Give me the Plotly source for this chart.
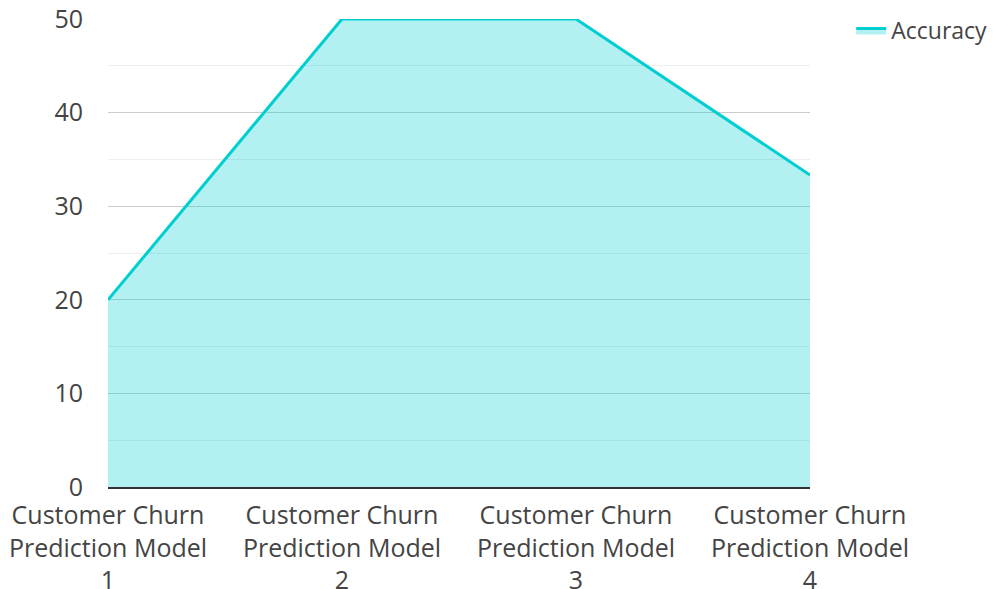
import plotly.graph_objects as go

categories = ["Customer Churn<br>Prediction Model<br>1", "Customer Churn<br>Prediction Model<br>2",
              "Customer Churn<br>Prediction Model<br>3", "Customer Churn<br>Prediction Model<br>4"]
accuracy = [20, 50, 50, 33.33]
series_name = "Accuracy"

x_idx = list(range(len(categories)))

fig = go.Figure()
fig.add_trace(go.Scatter(
    x=x_idx, y=accuracy, name=series_name, mode="lines",
    line=dict(color="#00CED1", width=3),
    fill="tozeroy", fillcolor="rgba(0,206,209,0.3)",
    showlegend=True,
))

fig.update_layout(
    width=992, height=581,
    margin=dict(l=100, r=190, t=11, b=102, autoexpand=False),
    paper_bgcolor="white", plot_bgcolor="white",
    font=dict(family="Open Sans", size=25, color="#444"),
    showlegend=True,
    legend=dict(x=1.0587, y=1.0214, xanchor="left", yanchor="top", font=dict(size=23, color="#444"),
                bgcolor="rgba(0,0,0,0)"),
    xaxis=dict(
        range=[0, len(categories) - 1], tickvals=x_idx, ticktext=categories,
        showgrid=False, zeroline=False, showline=True, linecolor="#333", linewidth=2,
        ticks="", tickfont=dict(size=25, color="#444"), automargin=False, ticklabelstandoff=5,
        ticklabeloverflow="allow",
    ),
    yaxis=dict(
        range=[0, 50], dtick=10, showgrid=True, gridcolor="#cccccc", gridwidth=1,
        zeroline=False, showline=False, ticks="", ticklabelstandoff=24, automargin=False,
        tickfont=dict(size=25, color="#444"), ticklabeloverflow="allow",
        minor=dict(dtick=5, showgrid=True, gridcolor="#eeeeee", gridwidth=1),
    ),
)

fig.write_html("out.html")
